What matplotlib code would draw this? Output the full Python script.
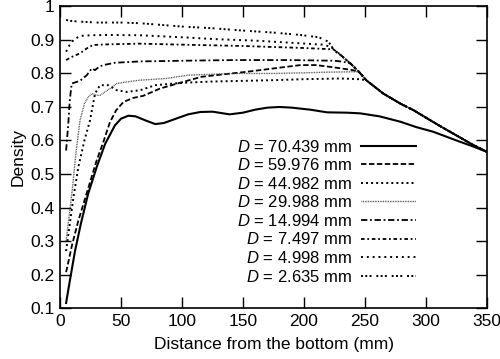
import numpy as np
import matplotlib.pyplot as plt

plt.rcParams['font.family'] = ['Liberation Sans', 'DejaVu Sans']
plt.rcParams['mathtext.fontset'] = 'custom'
plt.rcParams['mathtext.it'] = 'Liberation Sans:italic'
plt.rcParams['mathtext.rm'] = 'Liberation Sans'

# common tail where all curves merge
tail_x = [230, 238, 245, 251, 258, 265, 279, 290, 300, 312, 325, 337, 350]
tail_y = [0.855, 0.83, 0.805, 0.78, 0.76, 0.74, 0.71, 0.69, 0.668, 0.642, 0.615, 0.59, 0.566]

x_70 = [5, 8, 12.3, 17, 23, 30, 37, 45, 50, 56, 62, 70, 78, 85, 95, 105, 115, 125, 139, 150,
        160, 170, 180, 190, 205, 219, 235, 246, 262, 279, 292, 306, 325, 338, 350]
y_70 = [0.115, 0.18, 0.27, 0.35, 0.44, 0.52, 0.59, 0.645, 0.665, 0.674, 0.672, 0.66, 0.649, 0.652,
        0.665, 0.678, 0.685, 0.686, 0.678, 0.683, 0.692, 0.698, 0.7, 0.698, 0.692, 0.684, 0.683,
        0.681, 0.672, 0.656, 0.64, 0.626, 0.6, 0.583, 0.566]

x_60 = [5, 10, 15, 20, 25, 30, 35, 41, 46, 52, 60, 68, 82, 101, 116, 128, 153, 175, 197, 210, 225, 240]
y_60 = [0.207, 0.29, 0.36, 0.42, 0.48, 0.54, 0.59, 0.655, 0.69, 0.715, 0.727, 0.733, 0.755, 0.775,
        0.79, 0.795, 0.805, 0.815, 0.825, 0.825, 0.818, 0.81]

x_45 = [5, 8, 11, 15, 20, 24.6, 28.7, 32.8, 39.6, 46.5, 54.6, 65.6, 78, 100, 125, 150, 175, 200, 230, 245]
y_45 = [0.27, 0.35, 0.43, 0.52, 0.6, 0.66, 0.74, 0.765, 0.765, 0.75, 0.745, 0.75, 0.765, 0.772,
        0.776, 0.778, 0.78, 0.783, 0.785, 0.783]

x_30 = [5, 7, 10, 13, 16.4, 20, 23.2, 26, 30, 33, 37, 41, 46.5, 55, 65.6, 87, 105, 142, 175, 200, 220, 240]
y_30 = [0.3, 0.36, 0.45, 0.56, 0.66, 0.71, 0.73, 0.74, 0.735, 0.735, 0.745, 0.755, 0.77, 0.775, 0.78,
        0.785, 0.795, 0.8, 0.8, 0.802, 0.804, 0.805]

x_15 = [5, 6.8, 8, 9.6, 13, 16.4, 22, 26, 28.7, 32, 35.5, 45, 65.6, 100, 142, 190, 225, 232]
y_15 = [0.57, 0.65, 0.72, 0.77, 0.774, 0.778, 0.795, 0.815, 0.81, 0.82, 0.825, 0.832, 0.836, 0.838,
        0.84, 0.84, 0.838, 0.835]

x_7 = [5, 10, 16.4, 22, 27, 40, 65.6, 100, 150, 200, 224, 228]
y_7 = [0.84, 0.85, 0.86, 0.875, 0.885, 0.887, 0.889, 0.886, 0.882, 0.876, 0.872, 0.862]

x_5 = [5, 7, 11, 16.4, 25, 40, 65.6, 100, 130, 160, 197, 215, 222, 226]
y_5 = [0.865, 0.88, 0.9, 0.912, 0.914, 0.915, 0.914, 0.908, 0.902, 0.898, 0.89, 0.886, 0.88, 0.866]

x_2 = [5, 8, 15, 30, 50, 65.6, 100, 125, 150, 175, 197, 212, 220, 225]
y_2 = [0.96, 0.957, 0.955, 0.952, 0.952, 0.95, 0.94, 0.935, 0.928, 0.922, 0.915, 0.908, 0.895, 0.868]

labels = [r'$D$ = 70.439 mm', r'$D$ = 59.976 mm', r'$D$ = 44.982 mm', r'$D$ = 29.988 mm',
          r'$D$ = 14.994 mm', '\u2007' + r'$D$ = 7.497 mm', '\u2007' + r'$D$ = 4.998 mm',
          '\u2007' + r'$D$ = 2.635 mm']


def with_tail(xs, ys):
    xx = list(xs) + [t for t in tail_x if t > xs[-1]]
    yy = list(ys) + [v for t, v in zip(tail_x, tail_y) if t > xs[-1]]
    return xx, yy


fig = plt.figure(figsize=(5, 3.59), dpi=100)
ax = fig.add_axes([0.12, 0.142, 0.854, 0.84])

curves = [(x_70, y_70, dict(color='black', lw=1.5, ls='-')),
          (x_60, y_60, dict(color='black', lw=1.3, dashes=(3, 1.4))),
          (x_45, y_45, dict(color='black', lw=1.4, dashes=(1, 1.6))),
          (x_30, y_30, dict(color='#444444', lw=1.0, dashes=(0.6, 0.6))),
          (x_15, y_15, dict(color='black', lw=1.3, dashes=(3.5, 1.5, 1, 1.5))),
          (x_7, y_7, dict(color='black', lw=1.3, dashes=(2, 1.5, 1, 1.5))),
          (x_5, y_5, dict(color='black', lw=1.4, dashes=(1, 2))),
          (x_2, y_2, dict(color='black', lw=1.4, dashes=(1, 1.2, 1, 1.2, 1, 2.5)))]

for (xs, ys, st), lab in zip(curves, labels):
    if xs is x_70:
        xx, yy = xs, ys
    else:
        xx, yy = with_tail(xs, ys)
    ax.plot(xx, yy, label=lab, **st)

ax.set_xlim(0, 350)
ax.set_ylim(0.1, 1.0)
ax.set_xticks(np.arange(0, 351, 50))
ax.set_yticks(np.arange(0.1, 1.01, 0.1))
ax.set_yticklabels(['0.1', '0.2', '0.3', '0.4', '0.5', '0.6', '0.7', '0.8', '0.9', '1'])
ax.tick_params(direction='in', length=8, width=1, top=True, right=True, labelsize=12.5, pad=4)
for s in ax.spines.values():
    s.set_linewidth(1.2)

ax.set_xlabel('Distance from the bottom (mm)', fontsize=12.5, labelpad=6)
ax.set_ylabel('Density', fontsize=12.5, labelpad=3)

leg = ax.legend(loc='upper right', bbox_to_anchor=(0.834, 0.562), frameon=False, fontsize=12,
                markerfirst=False, handlelength=3.3, handletextpad=0.55, labelspacing=0.155,
                borderpad=0, borderaxespad=0)

fig.savefig('out.png', dpi=100)
